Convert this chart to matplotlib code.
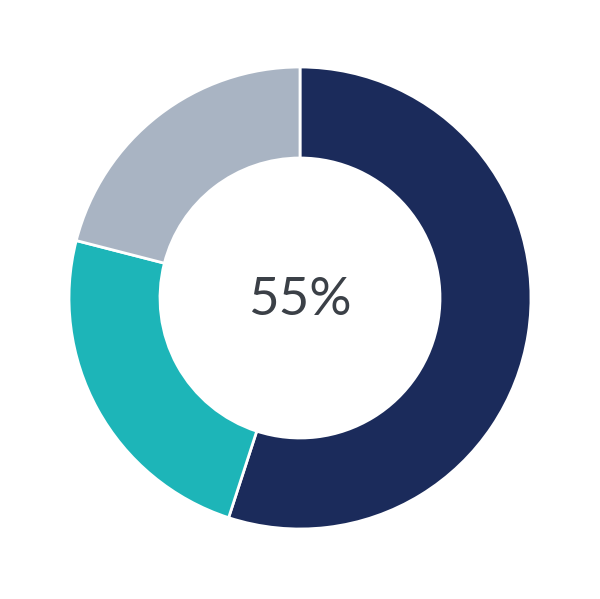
import matplotlib.pyplot as plt

labels = ["A", "B", "C"]
values = [55, 24, 21]
colors = ["#1b2b5b", "#1db5b8", "#a9b4c3"]
center_text = "55%"

fig = plt.figure(figsize=(6, 5.99), dpi=100)
ax = fig.add_axes([0, 0, 1, 1])
r = 231.0
ax.pie(values, colors=colors, startangle=90, counterclock=False, radius=1,
       wedgeprops=dict(width=91 / r, edgecolor="white", linewidth=2))
ax.text(0, -2 / r, center_text, ha="center", va="center", fontsize=38,
        color="#3b4047", family=["Lato", "DejaVu Sans"])
ax.set_xlim(-300 / r, 300 / r)
ax.set_ylim(-301 / r, 298 / r)
ax.set_aspect("auto")
ax.axis("off")
fig.savefig("out.png", dpi=100, facecolor="white")
